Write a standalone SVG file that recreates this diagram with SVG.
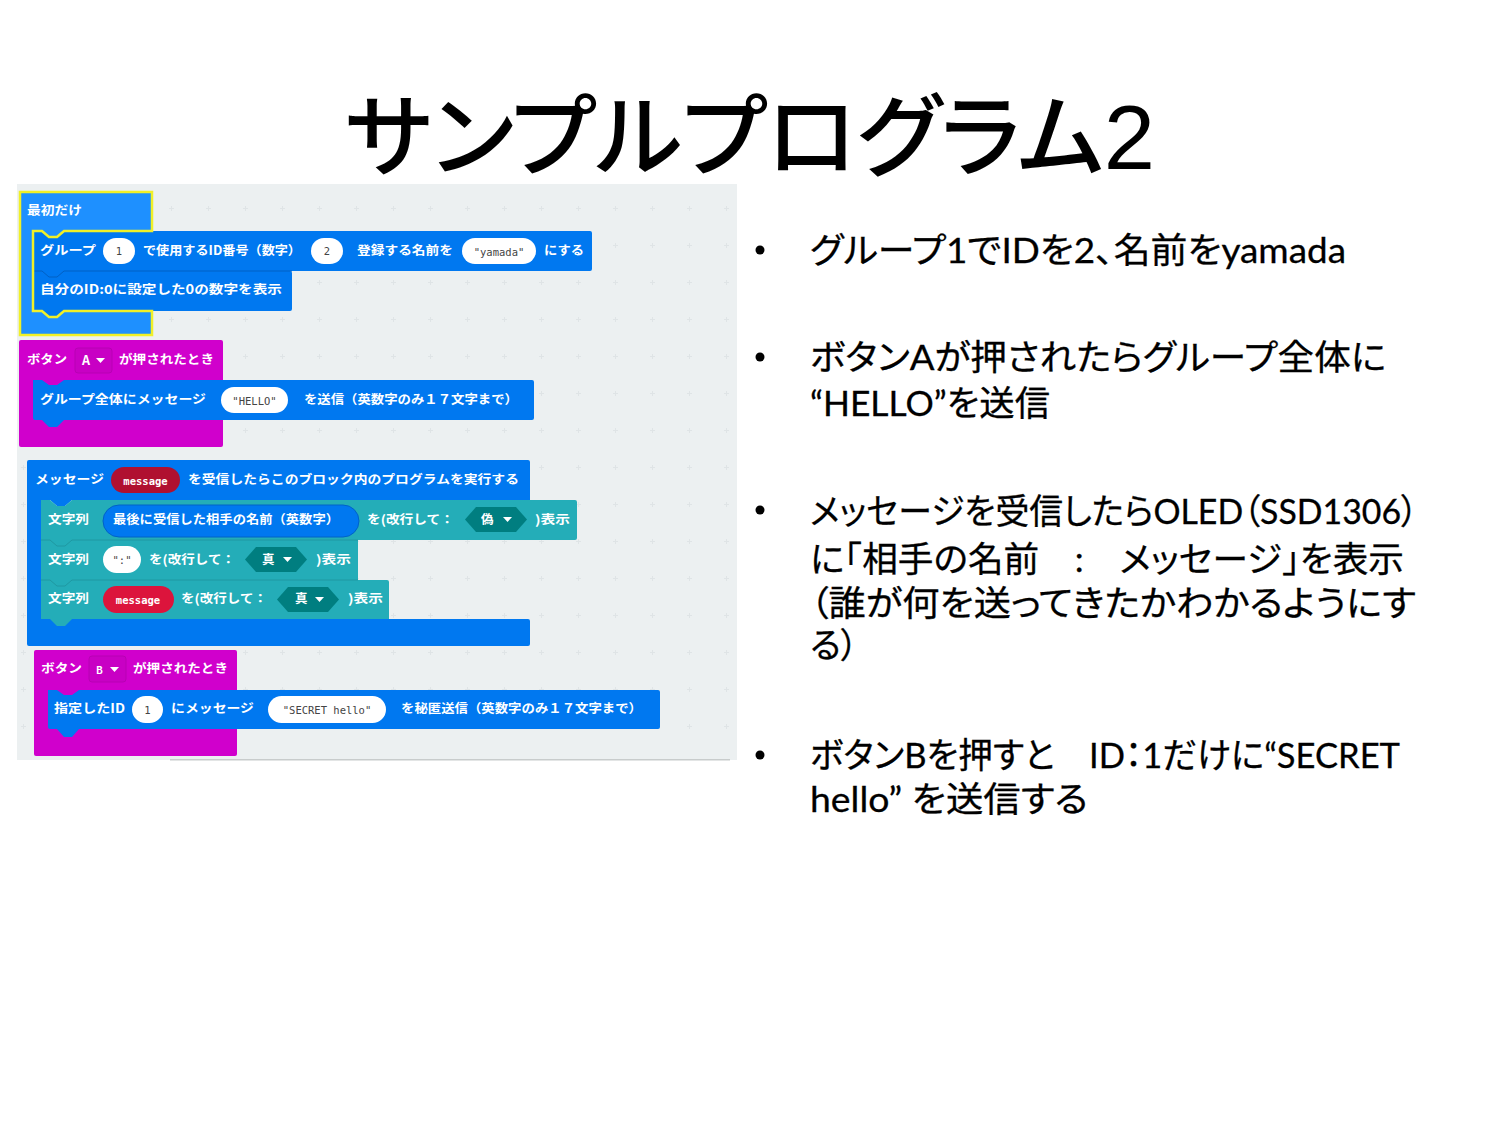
<svg xmlns="http://www.w3.org/2000/svg" width="1500" height="1125" viewBox="0 0 1500 1125">
<style>
.ttl{font-family:"Noto Sans CJK JP","Noto Sans",sans-serif;font-size:90px;font-weight:500;fill:#000;font-feature-settings:"palt"}
.two{font-family:"Liberation Sans",sans-serif}
.b{font-family:Lato,"Noto Sans CJK JP",sans-serif;font-size:35px;fill:#000;stroke:#000;stroke-width:.3;font-feature-settings:"palt"}
.w{font-family:"Noto Sans CJK JP",sans-serif;font-size:12.500px;font-weight:700;fill:#fff}
.m{font-family:"DejaVu Sans Mono",monospace;font-size:10.500px;fill:#444}
.mw{font-family:"DejaVu Sans Mono",monospace;font-size:10.500px;font-weight:700;fill:#fff}
.blue{fill:#0078f0}.sky{fill:#1e90ff}.pur{fill:#d000cc}.teal{fill:#24adb8}
.o{fill:#fff}.dk{fill:#007e80}.red{fill:#dc143c}.drk{fill:#b01030}
.yl{fill:none;stroke:#f0f028;stroke-width:2.500}
.seam{fill:none;stroke-width:1}
</style>
<defs>
<pattern id="grid" x="0" y="0" width="37" height="37" patternUnits="userSpaceOnUse" patternTransform="translate(21 21)">
<path d="M0 2.500H5M2.500 0V5" stroke="#dfe4e6" stroke-width="1" fill="none"/>
</pattern>
</defs>
<rect width="1500" height="1125" fill="#fff"/>
<text class="ttl" x="345" y="169" textLength="810" lengthAdjust="spacingAndGlyphs">サンプルプログラム<tspan class="two">2</tspan></text>

<rect x="17" y="184" width="720" height="576" fill="#ecf0f1"/>
<rect x="17" y="184" width="720" height="576" fill="url(#grid)"/>
<rect x="170" y="759" width="560" height="1.500" fill="#c8cccc"/>

<g id="on-start">
<path class="sky" d="M20 192H152V240H33V305H152V335H20Z"/>
<path class="sky" d="M33 231H42L49 237H57L64 231H152V240H33Z"/>
<path class="blue" d="M33 231H42L49 237H57L64 231H590a2 2 0 0 1 2 2V269a2 2 0 0 1-2 2H33Z"/>
<path class="blue" d="M33 271H290a2 2 0 0 1 2 2V309a2 2 0 0 1-2 2H64L57 317H49L42 311H33Z"/>
<path class="seam" stroke="#0060c4" d="M33 271H42L49 277H57L64 271H292"/>
<path class="yl" d="M20 192H152V231H64L57 237H49L42 231H33V311H42L49 317H57L64 311H152V335H20Z"/>
<text class="w" x="27" y="215" textLength="55" lengthAdjust="spacingAndGlyphs">最初だけ</text>
<text class="w" x="40" y="255" textLength="56" lengthAdjust="spacingAndGlyphs">グループ</text>
<rect class="o" x="103" y="238" width="32" height="26" rx="13"/>
<text class="m" x="119" y="255" text-anchor="middle">1</text>
<text class="w" x="143" y="255" textLength="158" lengthAdjust="spacingAndGlyphs">で使用するID番号（数字）</text>
<rect class="o" x="311" y="238" width="32" height="26" rx="13"/>
<text class="m" x="327" y="255" text-anchor="middle">2</text>
<text class="w" x="357" y="255" textLength="96" lengthAdjust="spacingAndGlyphs">登録する名前を</text>
<rect class="o" x="462" y="238" width="74" height="26" rx="13"/>
<text class="m" x="499" y="256" text-anchor="middle">"yamada"</text>
<text class="w" x="544" y="255" textLength="40" lengthAdjust="spacingAndGlyphs">にする</text>
<text class="w" x="40" y="294" textLength="242" lengthAdjust="spacingAndGlyphs">自分のID:0に設定した0の数字を表示</text>
</g>

<g id="button-a">
<path class="pur" d="M21 340H221a2 2 0 0 1 2 2V445a2 2 0 0 1-2 2H21a2 2 0 0 1-2-2V342a2 2 0 0 1 2-2Z"/>
<rect x="75" y="348" width="37" height="25" rx="3" fill="#c800c4" stroke="#b800b4"/>
<text class="w" x="27" y="364" textLength="40" lengthAdjust="spacingAndGlyphs">ボタン</text>
<text class="w" x="82" y="365">A</text>
<path class="o" d="M96 358H105L100.500 363Z"/>
<text class="w" x="119" y="364" textLength="95" lengthAdjust="spacingAndGlyphs">が押されたとき</text>
<path class="blue" d="M33 380H42L49 385H57L64 380H532a2 2 0 0 1 2 2V418a2 2 0 0 1-2 2H64L57 427H49L42 420H35a2 2 0 0 1-2-2Z"/>
<text class="w" x="40" y="404" textLength="166" lengthAdjust="spacingAndGlyphs">グループ全体にメッセージ</text>
<rect class="o" x="221" y="387" width="67" height="26" rx="13"/>
<text class="m" x="254.500" y="405" text-anchor="middle">"HELLO"</text>
<text class="w" x="304" y="404" textLength="214" lengthAdjust="spacingAndGlyphs">を送信（英数字のみ１７文字まで）</text>
</g>

<g id="on-message">
<path class="blue" d="M29 460H528a2 2 0 0 1 2 2V500H72L65 506H57L50 500H41V619H528a2 2 0 0 1 2 2V644a2 2 0 0 1-2 2H29a2 2 0 0 1-2-2V462a2 2 0 0 1 2-2Z"/>
<path class="teal" d="M41 500H50L57 506H65L72 500H575a2 2 0 0 1 2 2V538a2 2 0 0 1-2 2H41Z"/>
<path class="teal" d="M41 540H358V580H41Z"/>
<path class="teal" d="M41 580H387a2 2 0 0 1 2 2V619H72L65 626H57L50 619H41Z"/>
<path class="seam" stroke="#1f98a2" d="M41 540H50L57 546H65L72 540H358M41 580H50L57 586H65L72 580H358"/>
<text class="w" x="35" y="484" textLength="69" lengthAdjust="spacingAndGlyphs">メッセージ</text>
<rect class="drk" x="111" y="467" width="69" height="26" rx="13"/>
<text class="mw" x="145.500" y="485" text-anchor="middle">message</text>
<text class="w" x="188" y="484" textLength="331" lengthAdjust="spacingAndGlyphs">を受信したらこのブロック内のプログラムを実行する</text>
<text class="w" x="48" y="524" textLength="41" lengthAdjust="spacingAndGlyphs">文字列</text>
<rect class="blue" x="103" y="505" width="256" height="32" rx="16" stroke="#0062c8"/>
<text class="w" x="113" y="524" textLength="226" lengthAdjust="spacingAndGlyphs">最後に受信した相手の名前（英数字）</text>
<text class="w" x="367" y="524" textLength="87" lengthAdjust="spacingAndGlyphs">を(改行して：</text>
<path class="dk" d="M476 507H516L527 519.500L516 532H476L465 519.500Z"/>
<text class="w" x="481" y="524">偽</text>
<path class="o" d="M503 517H512L507.500 522Z"/>
<text class="w" x="535" y="524" textLength="35" lengthAdjust="spacingAndGlyphs">)表示</text>
<text class="w" x="48" y="564" textLength="41" lengthAdjust="spacingAndGlyphs">文字列</text>
<rect class="o" x="103" y="546" width="38" height="27" rx="13.500"/>
<text class="m" x="122" y="564" text-anchor="middle">":"</text>
<text class="w" x="149" y="564" textLength="86" lengthAdjust="spacingAndGlyphs">を(改行して：</text>
<path class="dk" d="M256 547H296L307 559.500L296 572H256L245 559.500Z"/>
<text class="w" x="262" y="564">真</text>
<path class="o" d="M283 557H292L287.500 562Z"/>
<text class="w" x="316" y="564" textLength="35" lengthAdjust="spacingAndGlyphs">)表示</text>
<text class="w" x="48" y="603" textLength="41" lengthAdjust="spacingAndGlyphs">文字列</text>
<rect class="red" x="103" y="586" width="71" height="27" rx="13.500"/>
<text class="mw" x="138" y="604" text-anchor="middle">message</text>
<text class="w" x="181" y="603" textLength="86" lengthAdjust="spacingAndGlyphs">を(改行して：</text>
<path class="dk" d="M288 587H328L339 599.500L328 612H288L277 599.500Z"/>
<text class="w" x="295" y="603">真</text>
<path class="o" d="M315 597H324L319.500 602Z"/>
<text class="w" x="348" y="603" textLength="35" lengthAdjust="spacingAndGlyphs">)表示</text>
</g>

<g id="button-b">
<path class="pur" d="M36 650H235a2 2 0 0 1 2 2V754a2 2 0 0 1-2 2H36a2 2 0 0 1-2-2V652a2 2 0 0 1 2-2Z"/>
<rect x="89" y="656" width="37" height="26" rx="3" fill="#c800c4" stroke="#b800b4"/>
<text class="w" x="41" y="673" textLength="41" lengthAdjust="spacingAndGlyphs">ボタン</text>
<text class="w" x="96" y="674" style="font-size:10px">B</text>
<path class="o" d="M110 667H119L114.500 672Z"/>
<text class="w" x="133" y="673" textLength="95" lengthAdjust="spacingAndGlyphs">が押されたとき</text>
<path class="blue" d="M48 690H57L64 695H72L79 690H658a2 2 0 0 1 2 2V727a2 2 0 0 1-2 2H79L72 737H64L57 729H50a2 2 0 0 1-2-2Z"/>
<text class="w" x="54" y="713" textLength="71" lengthAdjust="spacingAndGlyphs">指定したID</text>
<rect class="o" x="132" y="696" width="31" height="27" rx="13.500"/>
<text class="m" x="147.500" y="714" text-anchor="middle">1</text>
<text class="w" x="171" y="713" textLength="83" lengthAdjust="spacingAndGlyphs">にメッセージ</text>
<rect class="o" x="268" y="696" width="118" height="27" rx="13.500"/>
<text class="m" x="327" y="714" text-anchor="middle">"SECRET hello"</text>
<text class="w" x="401" y="713" textLength="241" lengthAdjust="spacingAndGlyphs">を秘匿送信（英数字のみ１７文字まで）</text>
</g>

<g id="bullets">
<circle cx="760" cy="250" r="4.500"/><circle cx="760" cy="357" r="4.500"/><circle cx="760" cy="510" r="4.500"/><circle cx="760" cy="755" r="4.500"/>
<text class="b" x="810" y="263" textLength="536" lengthAdjust="spacingAndGlyphs">グループ1でIDを2、名前をyamada</text>
<text class="b" x="810" y="370" textLength="576" lengthAdjust="spacingAndGlyphs">ボタンAが押されたらグループ全体に</text>
<text class="b" x="810" y="416" textLength="240" lengthAdjust="spacingAndGlyphs">“HELLO”を送信</text>
<text class="b" x="810" y="524" textLength="608" lengthAdjust="spacingAndGlyphs">メッセージを受信したらOLED（SSD1306）</text>
<text class="b" x="810" y="572" textLength="594" lengthAdjust="spacingAndGlyphs">に｢相手の名前　:　メッセージ｣を表示</text>
<text class="b" x="810" y="616" textLength="606" lengthAdjust="spacingAndGlyphs">（誰が何を送ってきたかわかるようにす</text>
<text class="b" x="810" y="658" textLength="48" lengthAdjust="spacingAndGlyphs">る）</text>
<text class="b" x="810" y="768" textLength="590" lengthAdjust="spacingAndGlyphs">ボタンBを押すと　ID：1だけに“SECRET</text>
<text class="b" x="810" y="812" textLength="278" lengthAdjust="spacingAndGlyphs">hello” を送信する</text>
</g>
</svg>
